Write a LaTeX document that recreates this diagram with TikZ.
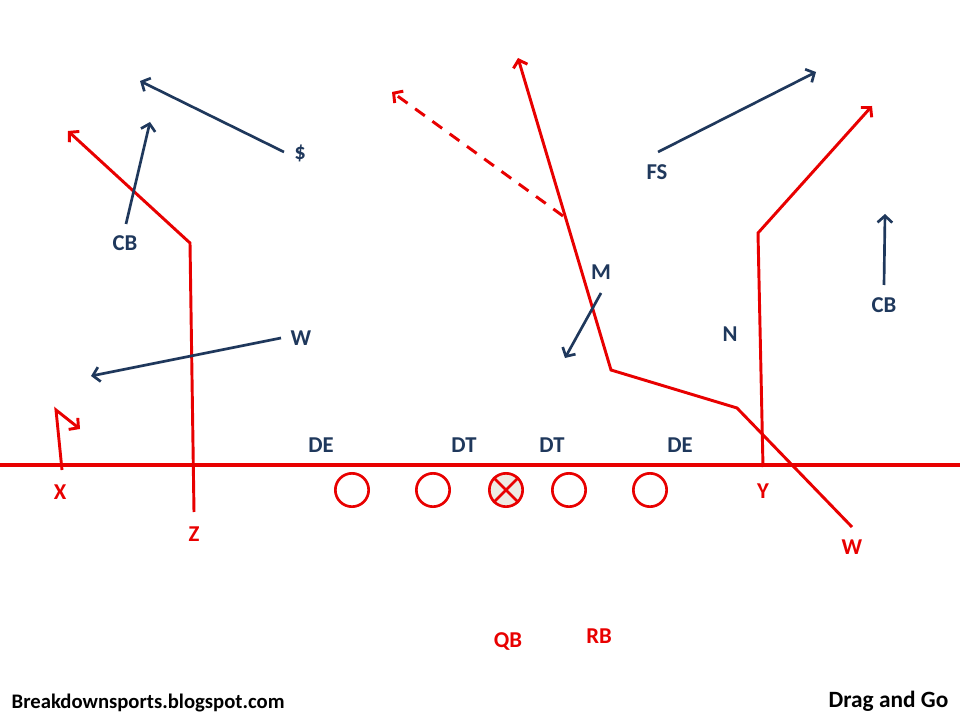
\documentclass[tikz,border=0pt]{standalone}
\usepackage{fontspec}
\setmainfont{Carlito}
\usetikzlibrary{arrows.meta,positioning}
\definecolor{offred}{RGB}{232,0,0}
\definecolor{defblue}{RGB}{31,56,92}

\begin{document}
\begin{tikzpicture}[x=0.75pt,y=-0.75pt,
    lbl/.style={font=\bfseries\fontsize{17}{19}\selectfont},
    route/.style={draw=offred,line width=2.2pt},
    read/.style={draw=defblue,line width=2pt,-{Straight Barb[length=5pt,width=11pt]}},
    lineman/.style={circle,draw=offred,line width=2pt,minimum size=25pt,inner sep=0pt}]
  \useasboundingbox (0,0) rectangle (960,720);
  % line of scrimmage
  \coordinate (los1) at (0,465);
  \coordinate (los2) at (960,465);
  \draw[draw=offred,line width=2.6pt] (los1) -- (los2);

  % offensive line
  \begin{scope}[every node/.style={lineman}]
    \node (lt) at (352,490) {};
    \node (lg) at (433,490) {};
    \node[fill={rgb,255:red,238;green,234;blue,226}] (ctr) at (506,490) {};
    \node (rg) at (569,490) {};
    \node (rt) at (650,490) {};
  \end{scope}
  \draw[offred,line width=2pt] (ctr.45) -- (ctr.225) (ctr.135) -- (ctr.315);

  % offense
  \begin{scope}[every node/.style={lbl,text=offred}]
    \node (x) at (60,492) {X};
    \node (z) at (194,534) {Z};
    \node (y) at (763,491) {Y};
    \node (w) at (852,547) {W};
    \node (qb) at (508,641) {QB};
    \node (rb) at (599,636) {RB};
  \end{scope}

  % routes
  \coordinate (x0) at (62,470);
  \coordinate (x1) at (56,410);
  \coordinate (x2) at (80,429);
  \coordinate (z0) at (194,512);
  \coordinate (z1) at (190,243);
  \coordinate (z2) at (68,131);
  \coordinate (y0) at (763,467);
  \coordinate (y1) at (758,233);
  \coordinate (y2) at (872,106);
  \coordinate (w0) at (852,527);
  \coordinate (w1) at (737,408);
  \coordinate (w2) at (611,370);
  \coordinate (w3) at (518,58);
  \coordinate (d0) at (563,216);
  \coordinate (d1) at (392,92);
  \begin{scope}[every path/.style={route,-{Straight Barb[length=5pt,width=11pt]}}]
    \path (x0) -- (x1) -- (x2);
    \path (z0) -- (z1) -- (z2);
    \path (y0) -- (y1) -- (y2);
    \path (w0) -- (w1) -- (w2) -- (w3);
    \path[dash pattern=on 9pt off 7pt] (d0) -- (d1);
  \end{scope}

  % defense
  \begin{scope}[every node/.style={lbl,text=defblue}]
    \node (de1) at (321,445) {DE};
    \node (dt1) at (464,445) {DT};
    \node (dt2) at (552,445) {DT};
    \node (de2) at (680,445) {DE};
    \node (ss) at (300,153) {\$};
    \node (cbl) at (125,243) {CB};
    \node (wl) at (301,338) {W};
    \node (m) at (601,272) {M};
    \node (n) at (730,334) {N};
    \node (fs) at (657,172) {FS};
    \node (cbr) at (884,305) {CB};
  \end{scope}

  % drops
  \coordinate (ss0) at (284,152);
  \coordinate (ss1) at (140,81);
  \coordinate (cbl0) at (126,224);
  \coordinate (cbl1) at (150,122);
  \coordinate (wl0) at (281,338);
  \coordinate (wl1) at (91,376);
  \coordinate (m0) at (601,293);
  \coordinate (m1) at (565,358);
  \coordinate (fs0) at (658,152);
  \coordinate (fs1) at (816,72);
  \coordinate (cbr0) at (884,285);
  \coordinate (cbr1) at (885,214);
  \begin{scope}[every path/.style={read}]
    \path (ss0) -- (ss1);
    \path (cbl0) -- (cbl1);
    \path (wl0) -- (wl1);
    \path (m0) -- (m1);
    \path (fs0) -- (fs1);
    \path (cbr0) -- (cbr1);
  \end{scope}

  % captions
  \node[font=\bfseries\fontsize{15.5}{17}\selectfont,anchor=west] (site) at (7,703) {Breakdownsports.blogspot.com};
  \node[font=\bfseries\fontsize{17.5}{19}\selectfont,anchor=east] (title) at (953,701) {Drag and Go};
\end{tikzpicture}
\end{document}
